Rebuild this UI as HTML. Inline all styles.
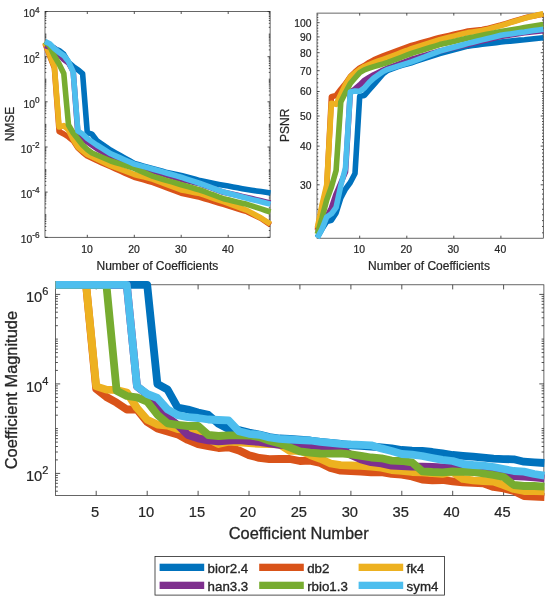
<!DOCTYPE html>
<html lang="en"><head><meta charset="utf-8"><title>Wavelet comparison</title>
<style>html,body{margin:0;padding:0;background:#fff}body{width:550px;height:602px;overflow:hidden}svg{display:block}text{font-family:"Liberation Sans", sans-serif;fill:#262626;stroke:#262626;stroke-width:0.22px}</style>
</head><body>
<svg width="550" height="602" viewBox="0 0 550 602">
<rect width="550" height="602" fill="#fff"/>
<g id="plot1">
<rect x="45.0" y="11.5" width="225.1" height="225.8" fill="none" stroke="#262626" stroke-width="0.7"/>
<path d="M87.3 237.3L87.3 234.8M87.3 11.5L87.3 14.0M134.3 237.3L134.3 234.8M134.3 11.5L134.3 14.0M181.2 237.3L181.2 234.8M181.2 11.5L181.2 14.0M228.2 237.3L228.2 234.8M228.2 11.5L228.2 14.0" stroke="#262626" stroke-width="0.8" fill="none"/>
<path d="M45.0 11.5L47.6 11.5M270.1 11.5L267.5 11.5M45.0 56.7L47.6 56.7M270.1 56.7L267.5 56.7M45.0 101.8L47.6 101.8M270.1 101.8L267.5 101.8M45.0 147.0L47.6 147.0M270.1 147.0L267.5 147.0M45.0 192.1L47.6 192.1M270.1 192.1L267.5 192.1M45.0 237.3L47.6 237.3M270.1 237.3L267.5 237.3" stroke="#262626" stroke-width="0.8" fill="none"/>
<path d="M45.0 34.1L46.3 34.1M270.1 34.1L268.8 34.1M45.0 79.2L46.3 79.2M270.1 79.2L268.8 79.2M45.0 124.4L46.3 124.4M270.1 124.4L268.8 124.4M45.0 169.6L46.3 169.6M270.1 169.6L268.8 169.6M45.0 214.7L46.3 214.7M270.1 214.7L268.8 214.7" stroke="#262626" stroke-width="0.8" fill="none"/>
<path d="M45.0 27.3L46.3 27.3M270.1 27.3L268.8 27.3M45.0 23.3L46.3 23.3M270.1 23.3L268.8 23.3M45.0 20.5L46.3 20.5M270.1 20.5L268.8 20.5M45.0 18.3L46.3 18.3M270.1 18.3L268.8 18.3M45.0 16.5L46.3 16.5M270.1 16.5L268.8 16.5M45.0 15.0L46.3 15.0M270.1 15.0L268.8 15.0M45.0 13.7L46.3 13.7M270.1 13.7L268.8 13.7M45.0 12.5L46.3 12.5M270.1 12.5L268.8 12.5M45.0 49.9L46.3 49.9M270.1 49.9L268.8 49.9M45.0 45.9L46.3 45.9M270.1 45.9L268.8 45.9M45.0 43.1L46.3 43.1M270.1 43.1L268.8 43.1M45.0 40.9L46.3 40.9M270.1 40.9L268.8 40.9M45.0 39.1L46.3 39.1M270.1 39.1L268.8 39.1M45.0 37.6L46.3 37.6M270.1 37.6L268.8 37.6M45.0 36.3L46.3 36.3M270.1 36.3L268.8 36.3M45.0 35.1L46.3 35.1M270.1 35.1L268.8 35.1M45.0 72.4L46.3 72.4M270.1 72.4L268.8 72.4M45.0 68.5L46.3 68.5M270.1 68.5L268.8 68.5M45.0 65.6L46.3 65.6M270.1 65.6L268.8 65.6M45.0 63.5L46.3 63.5M270.1 63.5L268.8 63.5M45.0 61.7L46.3 61.7M270.1 61.7L268.8 61.7M45.0 60.2L46.3 60.2M270.1 60.2L268.8 60.2M45.0 58.8L46.3 58.8M270.1 58.8L268.8 58.8M45.0 57.7L46.3 57.7M270.1 57.7L268.8 57.7M45.0 95.0L46.3 95.0M270.1 95.0L268.8 95.0M45.0 91.0L46.3 91.0M270.1 91.0L268.8 91.0M45.0 88.2L46.3 88.2M270.1 88.2L268.8 88.2M45.0 86.0L46.3 86.0M270.1 86.0L268.8 86.0M45.0 84.2L46.3 84.2M270.1 84.2L268.8 84.2M45.0 82.7L46.3 82.7M270.1 82.7L268.8 82.7M45.0 81.4L46.3 81.4M270.1 81.4L268.8 81.4M45.0 80.3L46.3 80.3M270.1 80.3L268.8 80.3M45.0 117.6L46.3 117.6M270.1 117.6L268.8 117.6M45.0 113.6L46.3 113.6M270.1 113.6L268.8 113.6M45.0 110.8L46.3 110.8M270.1 110.8L268.8 110.8M45.0 108.6L46.3 108.6M270.1 108.6L268.8 108.6M45.0 106.8L46.3 106.8M270.1 106.8L268.8 106.8M45.0 105.3L46.3 105.3M270.1 105.3L268.8 105.3M45.0 104.0L46.3 104.0M270.1 104.0L268.8 104.0M45.0 102.9L46.3 102.9M270.1 102.9L268.8 102.9M45.0 140.2L46.3 140.2M270.1 140.2L268.8 140.2M45.0 136.2L46.3 136.2M270.1 136.2L268.8 136.2M45.0 133.4L46.3 133.4M270.1 133.4L268.8 133.4M45.0 131.2L46.3 131.2M270.1 131.2L268.8 131.2M45.0 129.4L46.3 129.4M270.1 129.4L268.8 129.4M45.0 127.9L46.3 127.9M270.1 127.9L268.8 127.9M45.0 126.6L46.3 126.6M270.1 126.6L268.8 126.6M45.0 125.4L46.3 125.4M270.1 125.4L268.8 125.4M45.0 162.8L46.3 162.8M270.1 162.8L268.8 162.8M45.0 158.8L46.3 158.8M270.1 158.8L268.8 158.8M45.0 156.0L46.3 156.0M270.1 156.0L268.8 156.0M45.0 153.8L46.3 153.8M270.1 153.8L268.8 153.8M45.0 152.0L46.3 152.0M270.1 152.0L268.8 152.0M45.0 150.5L46.3 150.5M270.1 150.5L268.8 150.5M45.0 149.2L46.3 149.2M270.1 149.2L268.8 149.2M45.0 148.0L46.3 148.0M270.1 148.0L268.8 148.0M45.0 185.3L46.3 185.3M270.1 185.3L268.8 185.3M45.0 181.4L46.3 181.4M270.1 181.4L268.8 181.4M45.0 178.5L46.3 178.5M270.1 178.5L268.8 178.5M45.0 176.4L46.3 176.4M270.1 176.4L268.8 176.4M45.0 174.6L46.3 174.6M270.1 174.6L268.8 174.6M45.0 173.1L46.3 173.1M270.1 173.1L268.8 173.1M45.0 171.7L46.3 171.7M270.1 171.7L268.8 171.7M45.0 170.6L46.3 170.6M270.1 170.6L268.8 170.6M45.0 207.9L46.3 207.9M270.1 207.9L268.8 207.9M45.0 203.9L46.3 203.9M270.1 203.9L268.8 203.9M45.0 201.1L46.3 201.1M270.1 201.1L268.8 201.1M45.0 198.9L46.3 198.9M270.1 198.9L268.8 198.9M45.0 197.1L46.3 197.1M270.1 197.1L268.8 197.1M45.0 195.6L46.3 195.6M270.1 195.6L268.8 195.6M45.0 194.3L46.3 194.3M270.1 194.3L268.8 194.3M45.0 193.2L46.3 193.2M270.1 193.2L268.8 193.2M45.0 230.5L46.3 230.5M270.1 230.5L268.8 230.5M45.0 226.5L46.3 226.5M270.1 226.5L268.8 226.5M45.0 223.7L46.3 223.7M270.1 223.7L268.8 223.7M45.0 221.5L46.3 221.5M270.1 221.5L268.8 221.5M45.0 219.7L46.3 219.7M270.1 219.7L268.8 219.7M45.0 218.2L46.3 218.2M270.1 218.2L268.8 218.2M45.0 216.9L46.3 216.9M270.1 216.9L268.8 216.9M45.0 215.8L46.3 215.8M270.1 215.8L268.8 215.8" stroke="#262626" stroke-width="0.8" fill="none"/>
<polyline points="45.0,42.0 49.7,45.0 54.4,48.5 59.1,50.5 63.8,54.3 68.5,62.5 73.2,66.5 77.9,69.8 82.6,73.6 87.3,132.7 92.0,134.2 96.7,140.5 101.4,143.7 106.1,147.0 110.8,150.2 115.5,152.9 120.2,155.5 124.9,158.2 129.6,160.8 134.3,163.5 139.0,164.8 143.7,166.1 148.4,167.4 153.1,168.7 157.8,170.0 162.5,171.3 167.1,172.6 171.8,173.5 176.5,174.5 181.2,175.4 185.9,176.7 190.6,178.0 195.3,179.3 200.0,180.6 204.7,181.5 209.4,182.5 214.1,183.4 218.8,184.4 223.5,185.3 228.2,186.1 232.9,187.0 237.6,187.8 242.3,188.7 247.0,189.5 251.7,190.2 256.4,190.9 261.1,191.5 265.8,192.2 270.5,192.9" fill="none" stroke="#0072BD" stroke-width="5.6" stroke-linejoin="round" stroke-linecap="butt"/>
<polyline points="45.0,43.5 49.7,56.0 54.4,68.0 59.1,131.5 63.8,134.0 68.5,137.0 73.2,140.8 77.9,148.0 82.6,152.3 87.3,156.0 92.0,158.2 96.7,160.5 101.4,162.6 106.1,164.7 110.8,166.8 115.5,168.9 120.2,171.0 124.9,173.1 129.6,175.2 134.3,177.3 139.0,178.6 143.7,179.9 148.4,181.3 153.1,182.6 157.8,184.4 162.5,186.1 167.1,187.9 171.8,189.7 176.5,191.4 181.2,193.2 185.9,194.2 190.6,195.2 195.3,196.3 200.0,197.3 204.7,198.7 209.4,200.1 214.1,201.6 218.8,203.0 223.5,204.4 228.2,205.9 232.9,207.3 237.6,208.8 242.3,210.2 247.0,211.7 251.7,214.0 256.4,216.2 261.1,218.5 265.8,221.8 270.5,225.0" fill="none" stroke="#D95319" stroke-width="5.6" stroke-linejoin="round" stroke-linecap="butt"/>
<polyline points="45.0,42.5 49.7,55.0 54.4,67.0 59.1,127.0 63.8,125.6 68.5,130.0 73.2,139.5 77.9,147.0 82.6,150.8 87.3,154.5 92.0,156.8 96.7,159.0 101.4,161.2 106.1,163.4 110.8,165.6 115.5,167.4 120.2,169.2 124.9,170.9 129.6,172.7 134.3,174.5 139.0,175.7 143.7,176.9 148.4,178.1 153.1,179.3 157.8,181.1 162.5,182.8 167.1,184.6 171.8,186.4 176.5,188.1 181.2,189.9 185.9,190.8 190.6,191.8 195.3,192.7 200.0,193.6 204.7,195.2 209.4,196.8 214.1,198.5 218.8,200.1 223.5,201.7 228.2,203.4 232.9,205.2 237.6,206.9 242.3,208.7 247.0,210.4 251.7,212.9 256.4,215.5 261.1,218.0 265.8,221.0 270.5,224.0" fill="none" stroke="#EDB120" stroke-width="5.6" stroke-linejoin="round" stroke-linecap="butt"/>
<polyline points="45.0,45.5 49.7,47.0 54.4,48.0 59.1,54.5 63.8,59.5 68.5,63.0 73.2,71.5 77.9,134.0 82.6,138.0 87.3,142.0 92.0,145.2 96.7,148.5 101.4,151.2 106.1,153.8 110.8,156.5 115.5,158.4 120.2,160.3 124.9,162.3 129.6,164.2 134.3,166.1 139.0,167.3 143.7,168.6 148.4,169.8 153.1,171.1 157.8,172.5 162.5,173.9 167.1,175.2 171.8,176.6 176.5,178.0 181.2,179.4 185.9,180.5 190.6,181.6 195.3,182.7 200.0,183.8 204.7,185.5 209.4,187.2 214.1,188.9 218.8,190.6 223.5,192.3 228.2,193.3 232.9,194.3 237.6,195.3 242.3,196.4 247.0,197.4 251.7,198.5 256.4,199.7 261.1,200.8 265.8,202.0 270.5,203.1" fill="none" stroke="#7E2F8E" stroke-width="5.6" stroke-linejoin="round" stroke-linecap="butt"/>
<polyline points="45.0,41.5 49.7,46.0 54.4,56.0 59.1,64.0 63.8,73.6 68.5,125.0 73.2,133.0 77.9,139.0 82.6,145.0 87.3,149.5 92.0,153.0 96.7,155.0 101.4,157.0 106.1,159.0 110.8,161.0 115.5,162.5 120.2,163.9 124.9,165.4 129.6,166.8 134.3,168.3 139.0,170.3 143.7,172.4 148.4,174.4 153.1,176.4 157.8,177.8 162.5,179.2 167.1,180.6 171.8,181.9 176.5,183.3 181.2,184.7 185.9,186.0 190.6,187.3 195.3,188.7 200.0,190.0 204.7,191.7 209.4,193.5 214.1,195.2 218.8,197.0 223.5,198.7 228.2,199.8 232.9,200.9 237.6,202.1 242.3,203.2 247.0,204.3 251.7,205.8 256.4,207.4 261.1,208.9 265.8,210.5 270.5,212.0" fill="none" stroke="#77AC30" stroke-width="5.6" stroke-linejoin="round" stroke-linecap="butt"/>
<polyline points="45.0,41.5 49.7,43.7 54.4,48.5 59.1,52.4 63.8,55.6 68.5,61.6 73.2,72.0 77.9,131.0 82.6,134.0 87.3,138.5 92.0,141.8 96.7,145.0 101.4,147.9 106.1,150.9 110.8,153.8 115.5,155.9 120.2,157.9 124.9,160.0 129.6,162.0 134.3,164.1 139.0,165.4 143.7,166.6 148.4,167.9 153.1,169.2 157.8,170.5 162.5,171.9 167.1,173.2 171.8,174.5 176.5,175.9 181.2,177.2 185.9,178.8 190.6,180.3 195.3,181.9 200.0,183.5 204.7,185.2 209.4,186.9 214.1,188.6 218.8,190.3 223.5,192.0 228.2,193.3 232.9,194.5 237.6,195.8 242.3,197.0 247.0,198.3 251.7,199.5 256.4,200.6 261.1,201.8 265.8,202.9 270.5,204.1" fill="none" stroke="#4DBEEE" stroke-width="5.6" stroke-linejoin="round" stroke-linecap="butt"/>
<text x="39.5" y="17.4" text-anchor="end" font-size="10.3">10<tspan font-size="8.2" dy="-4.9">4</tspan></text>
<text x="39.5" y="62.6" text-anchor="end" font-size="10.3">10<tspan font-size="8.2" dy="-4.9">2</tspan></text>
<text x="39.5" y="107.7" text-anchor="end" font-size="10.3">10<tspan font-size="8.2" dy="-4.9">0</tspan></text>
<text x="39.5" y="152.9" text-anchor="end" font-size="10.3">10<tspan font-size="8.2" dy="-4.9">-2</tspan></text>
<text x="39.5" y="198.0" text-anchor="end" font-size="10.3">10<tspan font-size="8.2" dy="-4.9">-4</tspan></text>
<text x="39.5" y="243.2" text-anchor="end" font-size="10.3">10<tspan font-size="8.2" dy="-4.9">-6</tspan></text>
<text x="87.0" y="252.6" text-anchor="middle" font-size="10.4">10</text>
<text x="134.0" y="252.6" text-anchor="middle" font-size="10.4">20</text>
<text x="180.9" y="252.6" text-anchor="middle" font-size="10.4">30</text>
<text x="227.9" y="252.6" text-anchor="middle" font-size="10.4">40</text>
<text x="157.4" y="269.7" text-anchor="middle" font-size="12">Number of Coefficients</text>
<text transform="translate(14.4,124.0) rotate(-90)" text-anchor="middle" font-size="12">NMSE</text>
</g>
<g id="plot2">
<rect x="317.0" y="13.1" width="226.3" height="225.1" fill="none" stroke="#262626" stroke-width="0.7"/>
<path d="M359.7 238.2L359.7 235.7M359.7 13.1L359.7 15.6M406.8 238.2L406.8 235.7M406.8 13.1L406.8 15.6M453.8 238.2L453.8 235.7M453.8 13.1L453.8 15.6M500.9 238.2L500.9 235.7M500.9 13.1L500.9 15.6" stroke="#262626" stroke-width="0.8" fill="none"/>
<path d="M317.0 184.8L319.6 184.8M543.3 184.8L540.7 184.8M317.0 146.1L319.6 146.1M543.3 146.1L540.7 146.1M317.0 116.0L319.6 116.0M543.3 116.0L540.7 116.0M317.0 91.5L319.6 91.5M543.3 91.5L540.7 91.5M317.0 70.7L319.6 70.7M543.3 70.7L540.7 70.7M317.0 52.7L319.6 52.7M543.3 52.7L540.7 52.7M317.0 36.9L319.6 36.9M543.3 36.9L540.7 36.9M317.0 22.7L319.6 22.7M543.3 22.7L540.7 22.7" stroke="#262626" stroke-width="0.8" fill="none"/>
<path d="M317.0 232.8L318.3 232.8M543.3 232.8L542.0 232.8M317.0 226.5L318.3 226.5M543.3 226.5L542.0 226.5M317.0 220.6L318.3 220.6M543.3 220.6L542.0 220.6M317.0 214.8L318.3 214.8M543.3 214.8L542.0 214.8M317.0 209.3L318.3 209.3M543.3 209.3L542.0 209.3M317.0 204.1L318.3 204.1M543.3 204.1L542.0 204.1M317.0 199.0L318.3 199.0M543.3 199.0L542.0 199.0M317.0 194.1L318.3 194.1M543.3 194.1L542.0 194.1M317.0 189.4L318.3 189.4M543.3 189.4L542.0 189.4M317.0 180.4L318.3 180.4M543.3 180.4L542.0 180.4M317.0 176.1L318.3 176.1M543.3 176.1L542.0 176.1M317.0 172.0L318.3 172.0M543.3 172.0L542.0 172.0M317.0 167.9L318.3 167.9M543.3 167.9L542.0 167.9M317.0 164.0L318.3 164.0M543.3 164.0L542.0 164.0M317.0 160.2L318.3 160.2M543.3 160.2L542.0 160.2M317.0 156.6L318.3 156.6M543.3 156.6L542.0 156.6M317.0 153.0L318.3 153.0M543.3 153.0L542.0 153.0M317.0 149.5L318.3 149.5M543.3 149.5L542.0 149.5M317.0 142.7L318.3 142.7M543.3 142.7L542.0 142.7M317.0 139.5L318.3 139.5M543.3 139.5L542.0 139.5M317.0 136.3L318.3 136.3M543.3 136.3L542.0 136.3M317.0 133.2L318.3 133.2M543.3 133.2L542.0 133.2M317.0 130.2L318.3 130.2M543.3 130.2L542.0 130.2M317.0 127.2L318.3 127.2M543.3 127.2L542.0 127.2M317.0 124.3L318.3 124.3M543.3 124.3L542.0 124.3M317.0 121.5L318.3 121.5M543.3 121.5L542.0 121.5M317.0 118.7L318.3 118.7M543.3 118.7L542.0 118.7M317.0 113.4L318.3 113.4M543.3 113.4L542.0 113.4M317.0 110.7L318.3 110.7M543.3 110.7L542.0 110.7M317.0 108.2L318.3 108.2M543.3 108.2L542.0 108.2M317.0 105.7L318.3 105.7M543.3 105.7L542.0 105.7M317.0 103.2L318.3 103.2M543.3 103.2L542.0 103.2M317.0 100.8L318.3 100.8M543.3 100.8L542.0 100.8M317.0 98.4L318.3 98.4M543.3 98.4L542.0 98.4M317.0 96.0L318.3 96.0M543.3 96.0L542.0 96.0M317.0 93.7L318.3 93.7M543.3 93.7L542.0 93.7M317.0 87.1L318.3 87.1M543.3 87.1L542.0 87.1M317.0 82.8L318.3 82.8M543.3 82.8L542.0 82.8M317.0 78.6L318.3 78.6M543.3 78.6L542.0 78.6M317.0 74.6L318.3 74.6M543.3 74.6L542.0 74.6M317.0 66.9L318.3 66.9M543.3 66.9L542.0 66.9M317.0 63.2L318.3 63.2M543.3 63.2L542.0 63.2M317.0 59.6L318.3 59.6M543.3 59.6L542.0 59.6M317.0 56.2L318.3 56.2M543.3 56.2L542.0 56.2M317.0 49.4L318.3 49.4M543.3 49.4L542.0 49.4M317.0 46.2L318.3 46.2M543.3 46.2L542.0 46.2M317.0 43.0L318.3 43.0M543.3 43.0L542.0 43.0M317.0 39.9L318.3 39.9M543.3 39.9L542.0 39.9M317.0 33.9L318.3 33.9M543.3 33.9L542.0 33.9M317.0 31.0L318.3 31.0M543.3 31.0L542.0 31.0M317.0 28.2L318.3 28.2M543.3 28.2L542.0 28.2M317.0 25.4L318.3 25.4M543.3 25.4L542.0 25.4M317.0 20.0L318.3 20.0M543.3 20.0L542.0 20.0M317.0 17.4L318.3 17.4M543.3 17.4L542.0 17.4M317.0 14.9L318.3 14.9M543.3 14.9L542.0 14.9" stroke="#262626" stroke-width="0.8" fill="none"/>
<polyline points="317.3,237.3 322.0,229.0 326.7,221.5 331.4,220.3 336.1,213.0 340.8,198.0 345.5,189.0 350.3,182.5 355.0,173.5 359.7,96.2 364.4,95.4 369.1,90.0 373.8,84.6 378.5,79.1 383.2,73.6 387.9,70.3 392.6,68.6 397.3,66.8 402.0,65.4 406.8,64.1 411.5,62.7 416.2,61.2 420.9,59.6 425.6,58.1 430.3,56.6 435.0,55.0 439.7,53.5 444.4,52.3 449.1,51.0 453.8,49.8 458.5,48.6 463.2,47.3 468.0,46.1 472.7,45.5 477.4,44.9 482.1,44.3 486.8,43.8 491.5,43.2 496.2,42.6 500.9,42.0 505.6,41.5 510.3,41.1 515.0,40.6 519.7,40.1 524.5,39.7 529.2,39.2 533.9,38.7 538.6,38.3 543.3,37.8" fill="none" stroke="#0072BD" stroke-width="5.6" stroke-linejoin="round" stroke-linecap="butt"/>
<polyline points="317.3,230.0 322.0,208.0 326.7,188.0 331.4,96.7 336.1,95.5 340.8,89.2 345.5,83.5 350.3,76.5 355.0,72.0 359.7,68.0 364.4,65.5 369.1,62.4 373.8,59.9 378.5,57.8 383.2,55.8 387.9,54.0 392.6,52.3 397.3,50.5 402.0,48.8 406.8,47.1 411.5,45.4 416.2,44.1 420.9,42.8 425.6,41.5 430.3,40.1 435.0,38.8 439.7,37.5 444.4,36.4 449.1,35.4 453.8,34.3 458.5,33.2 463.2,32.2 468.0,31.1 472.7,30.6 477.4,30.0 482.1,29.5 486.8,28.6 491.5,27.4 496.2,26.2 500.9,25.0 505.6,23.6 510.3,22.2 515.0,20.8 519.7,19.4 524.5,18.0 529.2,16.7 533.9,15.9 538.6,15.0 543.3,14.2" fill="none" stroke="#D95319" stroke-width="5.6" stroke-linejoin="round" stroke-linecap="butt"/>
<polyline points="317.3,228.0 322.0,205.0 326.7,185.0 331.4,103.2 336.1,104.4 340.8,94.2 345.5,84.5 350.3,77.0 355.0,73.0 359.7,69.4 364.4,66.5 369.1,64.5 373.8,62.7 378.5,61.0 383.2,59.3 387.9,57.5 392.6,55.8 397.3,54.0 402.0,52.2 406.8,50.5 411.5,48.7 416.2,47.2 420.9,45.7 425.6,44.2 430.3,42.6 435.0,41.1 439.7,39.6 444.4,38.4 449.1,37.3 453.8,36.1 458.5,34.9 463.2,33.8 468.0,32.6 472.7,31.9 477.4,31.3 482.1,30.6 486.8,29.6 491.5,28.3 496.2,26.9 500.9,25.6 505.6,24.2 510.3,22.7 515.0,21.3 519.7,19.8 524.5,18.4 529.2,17.0 533.9,15.9 538.6,14.8 543.3,13.7" fill="none" stroke="#EDB120" stroke-width="5.6" stroke-linejoin="round" stroke-linecap="butt"/>
<polyline points="317.3,232.0 322.0,226.0 326.7,217.0 331.4,208.0 336.1,194.0 340.8,183.0 345.5,172.0 350.3,92.0 355.0,89.0 359.7,85.0 364.4,80.3 369.1,77.4 373.8,74.7 378.5,72.4 383.2,70.0 387.9,68.0 392.6,66.3 397.3,64.5 402.0,62.8 406.8,61.0 411.5,59.3 416.2,57.9 420.9,56.5 425.6,55.1 430.3,53.8 435.0,52.4 439.7,51.0 444.4,49.9 449.1,48.8 453.8,47.7 458.5,46.6 463.2,45.5 468.0,44.4 472.7,43.3 477.4,42.1 482.1,41.0 486.8,39.9 491.5,38.8 496.2,37.6 500.9,36.5 505.6,35.7 510.3,35.0 515.0,34.2 519.7,33.5 524.5,32.7 529.2,32.2 533.9,31.8 538.6,31.3 543.3,30.8" fill="none" stroke="#7E2F8E" stroke-width="5.6" stroke-linejoin="round" stroke-linecap="butt"/>
<polyline points="317.3,234.0 322.0,218.0 326.7,200.0 331.4,187.0 336.1,170.5 340.8,102.0 345.5,92.5 350.3,83.5 355.0,78.0 359.7,72.6 364.4,69.9 369.1,68.2 373.8,66.6 378.5,65.3 383.2,63.9 387.9,62.3 392.6,60.5 397.3,58.8 402.0,57.0 406.8,55.2 411.5,53.4 416.2,51.9 420.9,50.5 425.6,49.0 430.3,47.5 435.0,46.1 439.7,44.6 444.4,43.5 449.1,42.4 453.8,41.4 458.5,40.3 463.2,39.2 468.0,38.1 472.7,37.2 477.4,36.2 482.1,35.3 486.8,34.3 491.5,33.4 496.2,32.4 500.9,31.5 505.6,30.7 510.3,29.9 515.0,29.2 519.7,28.4 524.5,27.6 529.2,26.8 533.9,26.1 538.6,25.3 543.3,24.5" fill="none" stroke="#77AC30" stroke-width="5.6" stroke-linejoin="round" stroke-linecap="butt"/>
<polyline points="317.3,238.0 322.0,229.0 326.7,217.0 331.4,213.8 336.1,207.3 340.8,185.6 345.5,168.0 350.3,92.0 355.0,91.0 359.7,91.3 364.4,88.0 369.1,82.5 373.8,78.1 378.5,74.8 383.2,71.5 387.9,69.3 392.6,67.8 397.3,66.3 402.0,64.9 406.8,63.4 411.5,61.9 416.2,60.1 420.9,58.3 425.6,56.5 430.3,54.7 435.0,52.9 439.7,51.1 444.4,49.8 449.1,48.5 453.8,47.2 458.5,46.0 463.2,44.7 468.0,43.4 472.7,42.2 477.4,41.1 482.1,39.9 486.8,38.8 491.5,37.6 496.2,36.5 500.9,35.3 505.6,34.6 510.3,34.0 515.0,33.3 519.7,32.6 524.5,32.0 529.2,31.3 533.9,30.6 538.6,30.0 543.3,29.3" fill="none" stroke="#4DBEEE" stroke-width="5.6" stroke-linejoin="round" stroke-linecap="butt"/>
<text x="311.4" y="188.6" text-anchor="end" font-size="10.3">30</text>
<text x="311.4" y="149.9" text-anchor="end" font-size="10.3">40</text>
<text x="311.4" y="119.8" text-anchor="end" font-size="10.3">50</text>
<text x="311.4" y="95.3" text-anchor="end" font-size="10.3">60</text>
<text x="311.4" y="74.5" text-anchor="end" font-size="10.3">70</text>
<text x="311.4" y="56.5" text-anchor="end" font-size="10.3">80</text>
<text x="311.4" y="40.7" text-anchor="end" font-size="10.3">90</text>
<text x="311.4" y="26.5" text-anchor="end" font-size="10.3">100</text>
<text x="359.2" y="253.2" text-anchor="middle" font-size="10.4">10</text>
<text x="406.3" y="253.2" text-anchor="middle" font-size="10.4">20</text>
<text x="453.3" y="253.2" text-anchor="middle" font-size="10.4">30</text>
<text x="500.4" y="253.2" text-anchor="middle" font-size="10.4">40</text>
<text x="429.0" y="269.7" text-anchor="middle" font-size="12">Number of Coefficients</text>
<text transform="translate(288.7,125.3) rotate(-90)" text-anchor="middle" font-size="12">PSNR</text>
</g>
<g id="plot3">
<rect x="55.6" y="284.8" width="488.3" height="210.6" fill="none" stroke="#262626" stroke-width="0.7"/>
<path d="M96.2 495.4L96.2 490.8M96.2 284.8L96.2 289.4M147.2 495.4L147.2 490.8M147.2 284.8L147.2 289.4M198.1 495.4L198.1 490.8M198.1 284.8L198.1 289.4M249.0 495.4L249.0 490.8M249.0 284.8L249.0 289.4M299.9 495.4L299.9 490.8M299.9 284.8L299.9 289.4M350.9 495.4L350.9 490.8M350.9 284.8L350.9 289.4M401.8 495.4L401.8 490.8M401.8 284.8L401.8 289.4M452.7 495.4L452.7 490.8M452.7 284.8L452.7 289.4M503.6 495.4L503.6 490.8M503.6 284.8L503.6 289.4" stroke="#262626" stroke-width="0.8" fill="none"/>
<path d="M55.6 294.4L60.2 294.4M543.9 294.4L539.3 294.4M55.6 383.9L60.2 383.9M543.9 383.9L539.3 383.9M55.6 473.4L60.2 473.4M543.9 473.4L539.3 473.4" stroke="#262626" stroke-width="0.8" fill="none"/>
<path d="M55.6 339.1L57.9 339.1M543.9 339.1L541.6 339.1M55.6 428.6L57.9 428.6M543.9 428.6L541.6 428.6" stroke="#262626" stroke-width="0.8" fill="none"/>
<path d="M55.6 325.7L57.9 325.7M543.9 325.7L541.6 325.7M55.6 317.8L57.9 317.8M543.9 317.8L541.6 317.8M55.6 312.2L57.9 312.2M543.9 312.2L541.6 312.2M55.6 307.9L57.9 307.9M543.9 307.9L541.6 307.9M55.6 304.3L57.9 304.3M543.9 304.3L541.6 304.3M55.6 301.3L57.9 301.3M543.9 301.3L541.6 301.3M55.6 298.7L57.9 298.7M543.9 298.7L541.6 298.7M55.6 296.4L57.9 296.4M543.9 296.4L541.6 296.4M55.6 370.4L57.9 370.4M543.9 370.4L541.6 370.4M55.6 362.5L57.9 362.5M543.9 362.5L541.6 362.5M55.6 357.0L57.9 357.0M543.9 357.0L541.6 357.0M55.6 352.6L57.9 352.6M543.9 352.6L541.6 352.6M55.6 349.1L57.9 349.1M543.9 349.1L541.6 349.1M55.6 346.1L57.9 346.1M543.9 346.1L541.6 346.1M55.6 343.5L57.9 343.5M543.9 343.5L541.6 343.5M55.6 341.2L57.9 341.2M543.9 341.2L541.6 341.2M55.6 415.2L57.9 415.2M543.9 415.2L541.6 415.2M55.6 407.3L57.9 407.3M543.9 407.3L541.6 407.3M55.6 401.7L57.9 401.7M543.9 401.7L541.6 401.7M55.6 397.4L57.9 397.4M543.9 397.4L541.6 397.4M55.6 393.8L57.9 393.8M543.9 393.8L541.6 393.8M55.6 390.8L57.9 390.8M543.9 390.8L541.6 390.8M55.6 388.2L57.9 388.2M543.9 388.2L541.6 388.2M55.6 385.9L57.9 385.9M543.9 385.9L541.6 385.9M55.6 459.9L57.9 459.9M543.9 459.9L541.6 459.9M55.6 452.0L57.9 452.0M543.9 452.0L541.6 452.0M55.6 446.5L57.9 446.5M543.9 446.5L541.6 446.5M55.6 442.1L57.9 442.1M543.9 442.1L541.6 442.1M55.6 438.6L57.9 438.6M543.9 438.6L541.6 438.6M55.6 435.6L57.9 435.6M543.9 435.6L541.6 435.6M55.6 433.0L57.9 433.0M543.9 433.0L541.6 433.0M55.6 430.7L57.9 430.7M543.9 430.7L541.6 430.7M55.6 491.2L57.9 491.2M543.9 491.2L541.6 491.2M55.6 486.9L57.9 486.9M543.9 486.9L541.6 486.9M55.6 483.3L57.9 483.3M543.9 483.3L541.6 483.3M55.6 480.3L57.9 480.3M543.9 480.3L541.6 480.3M55.6 477.7L57.9 477.7M543.9 477.7L541.6 477.7M55.6 475.4L57.9 475.4M543.9 475.4L541.6 475.4" stroke="#262626" stroke-width="0.8" fill="none"/>
<polyline points="55.5,284.9 65.7,284.9 75.9,284.9 86.1,284.9 96.2,284.9 106.4,284.9 116.6,284.9 126.8,284.9 137.0,284.9 147.2,284.9 157.4,384.0 167.5,389.5 177.7,407.7 187.9,409.5 198.1,412.5 208.3,414.9 218.5,423.8 228.6,429.0 238.8,430.0 249.0,432.5 259.2,434.5 269.4,437.0 279.6,438.5 289.8,439.0 299.9,439.6 310.1,440.5 320.3,441.8 330.5,442.8 340.7,443.8 350.9,445.3 361.1,445.8 371.2,446.5 381.4,447.4 391.6,448.4 401.8,450.0 412.0,450.7 422.2,451.0 432.3,452.0 442.5,453.4 452.7,455.0 462.9,455.8 473.1,456.7 483.3,457.7 493.5,458.7 503.6,459.1 513.8,459.3 524.0,461.7 534.2,462.4 544.4,463.0" fill="none" stroke="#0072BD" stroke-width="7.8" stroke-linejoin="round" stroke-linecap="butt"/>
<polyline points="55.5,284.9 65.7,284.9 75.9,284.9 86.1,284.9 96.2,389.0 106.4,397.0 116.6,402.7 126.8,409.5 137.0,409.5 147.2,422.0 157.4,428.5 167.5,431.5 177.7,434.4 187.9,440.0 198.1,444.2 208.3,446.2 218.5,448.0 228.6,447.3 238.8,450.4 249.0,455.2 259.2,457.9 269.4,459.2 279.6,458.9 289.8,459.0 299.9,461.0 310.1,460.6 320.3,462.9 330.5,468.0 340.7,470.6 350.9,471.1 361.1,471.5 371.2,472.3 381.4,472.1 391.6,473.8 401.8,474.6 412.0,476.4 422.2,479.5 432.3,480.3 442.5,480.0 452.7,481.3 462.9,482.4 473.1,482.8 483.3,483.4 493.5,487.0 503.6,488.4 513.8,491.0 524.0,496.0 534.2,496.6 544.4,497.0" fill="none" stroke="#D95319" stroke-width="7.8" stroke-linejoin="round" stroke-linecap="butt"/>
<polyline points="55.5,284.9 65.7,284.9 75.9,284.9 86.1,284.9 96.2,386.4 106.4,389.6 116.6,390.1 126.8,392.5 137.0,408.0 147.2,419.7 157.4,424.5 167.5,425.6 177.7,429.0 187.9,429.8 198.1,430.7 208.3,439.0 218.5,444.0 228.6,441.7 238.8,442.3 249.0,443.2 259.2,443.8 269.4,444.0 279.6,444.4 289.8,450.9 299.9,450.5 310.1,455.0 320.3,458.8 330.5,463.5 340.7,465.2 350.9,465.5 361.1,465.9 371.2,466.7 381.4,467.7 391.6,470.0 401.8,470.8 412.0,472.0 422.2,472.3 432.3,473.0 442.5,473.8 452.7,472.0 462.9,479.0 473.1,480.4 483.3,481.0 493.5,481.6 503.6,485.0 513.8,489.0 524.0,491.0 534.2,491.0 544.4,491.4" fill="none" stroke="#EDB120" stroke-width="7.8" stroke-linejoin="round" stroke-linecap="butt"/>
<polyline points="55.5,284.9 65.7,284.9 75.9,284.9 86.1,284.9 96.2,284.9 106.4,284.9 116.6,284.9 126.8,284.9 137.0,386.4 147.2,394.5 157.4,402.7 167.5,417.0 177.7,425.0 187.9,435.0 198.1,438.3 208.3,440.3 218.5,441.4 228.6,440.5 238.8,440.2 249.0,441.2 259.2,441.9 269.4,443.5 279.6,444.9 289.8,444.8 299.9,446.0 310.1,446.2 320.3,446.6 330.5,447.6 340.7,448.4 350.9,455.0 361.1,459.5 371.2,462.1 381.4,463.5 391.6,465.7 401.8,466.0 412.0,466.7 422.2,466.7 432.3,467.0 442.5,467.4 452.7,468.0 462.9,468.7 473.1,469.4 483.3,470.2 493.5,471.0 503.6,475.0 513.8,476.0 524.0,476.6 534.2,477.4 544.4,478.4" fill="none" stroke="#7E2F8E" stroke-width="7.8" stroke-linejoin="round" stroke-linecap="butt"/>
<polyline points="55.5,284.9 65.7,284.9 75.9,284.9 86.1,284.9 96.2,284.9 106.4,284.9 116.6,390.7 126.8,396.0 137.0,397.3 147.2,401.6 157.4,414.7 167.5,423.3 177.7,424.9 187.9,426.0 198.1,426.0 208.3,435.0 218.5,436.0 228.6,435.3 238.8,435.3 249.0,435.5 259.2,437.1 269.4,440.7 279.6,443.4 289.8,447.3 299.9,451.3 310.1,452.7 320.3,453.5 330.5,453.7 340.7,453.4 350.9,454.4 361.1,455.8 371.2,457.5 381.4,458.3 391.6,460.6 401.8,461.0 412.0,462.4 422.2,471.3 432.3,472.0 442.5,472.3 452.7,471.5 462.9,471.8 473.1,472.0 483.3,473.5 493.5,475.0 503.6,477.0 513.8,485.0 524.0,486.0 534.2,486.0 544.4,486.6" fill="none" stroke="#77AC30" stroke-width="7.8" stroke-linejoin="round" stroke-linecap="butt"/>
<polyline points="55.5,284.9 65.7,284.9 75.9,284.9 86.1,284.9 96.2,284.9 106.4,284.9 116.6,284.9 126.8,284.9 137.0,386.4 147.2,394.0 157.4,398.0 167.5,409.3 177.7,415.1 187.9,417.2 198.1,418.0 208.3,419.5 218.5,420.0 228.6,420.3 238.8,431.2 249.0,433.8 259.2,434.8 269.4,437.5 279.6,438.9 289.8,439.5 299.9,440.1 310.1,440.5 320.3,441.8 330.5,442.8 340.7,443.8 350.9,444.5 361.1,444.8 371.2,445.3 381.4,448.4 391.6,451.0 401.8,454.0 412.0,454.7 422.2,456.0 432.3,458.0 442.5,459.8 452.7,461.0 462.9,464.0 473.1,465.0 483.3,465.6 493.5,467.0 503.6,469.0 513.8,471.0 524.0,471.6 534.2,474.0 544.4,475.6" fill="none" stroke="#4DBEEE" stroke-width="7.8" stroke-linejoin="round" stroke-linecap="butt"/>
<text x="48.4" y="302.4" text-anchor="end" font-size="14.7">10<tspan font-size="11" dy="-7.3">6</tspan></text>
<text x="48.4" y="391.9" text-anchor="end" font-size="14.7">10<tspan font-size="11" dy="-7.3">4</tspan></text>
<text x="48.4" y="481.4" text-anchor="end" font-size="14.7">10<tspan font-size="11" dy="-7.3">2</tspan></text>
<text x="95.1" y="517" text-anchor="middle" font-size="14.7">5</text>
<text x="146.1" y="517" text-anchor="middle" font-size="14.7">10</text>
<text x="197.0" y="517" text-anchor="middle" font-size="14.7">15</text>
<text x="247.9" y="517" text-anchor="middle" font-size="14.7">20</text>
<text x="298.8" y="517" text-anchor="middle" font-size="14.7">25</text>
<text x="349.8" y="517" text-anchor="middle" font-size="14.7">30</text>
<text x="400.7" y="517" text-anchor="middle" font-size="14.7">35</text>
<text x="451.6" y="517" text-anchor="middle" font-size="14.7">40</text>
<text x="502.5" y="517" text-anchor="middle" font-size="14.7">45</text>
<text x="298.7" y="539.2" text-anchor="middle" font-size="16.4" style="stroke-width:0.3px">Coefficient Number</text>
<text transform="translate(17.4,390.1) rotate(-90)" text-anchor="middle" font-size="16.4" style="stroke-width:0.3px">Coefficient Magnitude</text>
</g>
<g id="legend">
<rect x="155" y="556.5" width="289.5" height="38.6" fill="#fff" stroke="#262626" stroke-width="0.8"/>
<rect x="159.6" y="563.7" width="44.6" height="7.3" fill="#0072BD"/>
<text x="207.6" y="572.5" font-size="13.3" style="stroke-width:0.35px">bior2.4</text>
<rect x="259.2" y="563.7" width="44.6" height="7.3" fill="#D95319"/>
<text x="307.2" y="572.5" font-size="13.3" style="stroke-width:0.35px">db2</text>
<rect x="358.6" y="563.7" width="44.6" height="7.3" fill="#EDB120"/>
<text x="406.6" y="572.5" font-size="13.3" style="stroke-width:0.35px">fk4</text>
<rect x="159.6" y="581.7" width="44.6" height="7.3" fill="#7E2F8E"/>
<text x="207.6" y="590.5" font-size="13.3" style="stroke-width:0.35px">han3.3</text>
<rect x="259.2" y="581.7" width="44.6" height="7.3" fill="#77AC30"/>
<text x="307.2" y="590.5" font-size="13.3" style="stroke-width:0.35px">rbio1.3</text>
<rect x="358.6" y="581.7" width="44.6" height="7.3" fill="#4DBEEE"/>
<text x="406.6" y="590.5" font-size="13.3" style="stroke-width:0.35px">sym4</text>
</g>
</svg></body></html>
